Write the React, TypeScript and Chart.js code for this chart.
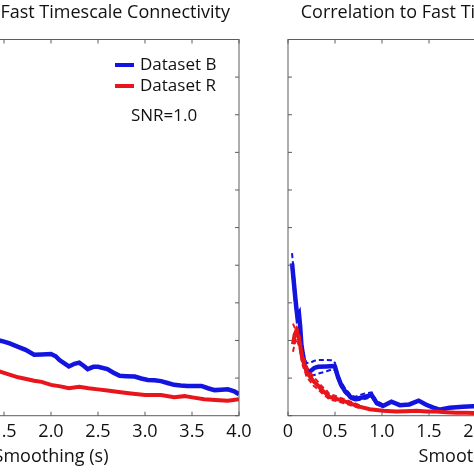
import React, { useEffect, useRef } from "react";
import { Chart, registerables } from "chart.js";

Chart.register(...registerables);

// shared axis ticks (both panels use the same scales)
const xTickValues = [0, 0.5, 1, 1.5, 2, 2.5, 3, 3.5, 4];
const yTickValues = [0, 0.1, 0.2, 0.3, 0.4, 0.5, 0.6, 0.7, 0.8, 0.9, 1];

// left panel: fast timescale connectivity
const leftBX = [1.45, 1.5, 1.56, 1.65, 1.73, 1.82, 1.9, 2.0, 2.05, 2.09, 2.19, 2.25, 2.3, 2.35, 2.39, 2.45, 2.5, 2.6, 2.66, 2.73, 2.8, 2.89, 2.96, 3.03, 3.1, 3.17, 3.24, 3.31, 3.38, 3.45, 3.52, 3.6, 3.67, 3.74, 3.81, 3.88, 3.95, 4.0];
const leftBY = [0.2, 0.197, 0.192, 0.183, 0.175, 0.162, 0.163, 0.164, 0.158, 0.148, 0.131, 0.138, 0.141, 0.132, 0.124, 0.13, 0.13, 0.124, 0.115, 0.106, 0.105, 0.104, 0.099, 0.095, 0.094, 0.092, 0.087, 0.082, 0.08, 0.079, 0.079, 0.079, 0.073, 0.068, 0.069, 0.07, 0.065, 0.057];
const leftRX = [1.45, 1.55, 1.65, 1.75, 1.82, 1.9, 2.0, 2.1, 2.19, 2.3, 2.4, 2.5, 2.6, 2.72, 2.85, 3.0, 3.17, 3.31, 3.42, 3.52, 3.63, 3.75, 3.88, 4.0];
const leftRY = [0.118, 0.11, 0.102, 0.097, 0.093, 0.09, 0.082, 0.078, 0.073, 0.077, 0.073, 0.07, 0.067, 0.063, 0.059, 0.055, 0.055, 0.049, 0.052, 0.048, 0.044, 0.042, 0.04, 0.044];

// right panel: correlation to fast timescale connectivity
const rightBX = [0.043, 0.06, 0.075, 0.089, 0.1, 0.117, 0.13, 0.142, 0.16, 0.178, 0.2, 0.23, 0.28, 0.32, 0.41, 0.48, 0.5, 0.53, 0.56, 0.6, 0.66, 0.71, 0.8, 0.89, 0.94, 1.01, 1.1, 1.19, 1.29, 1.39, 1.47, 1.54, 1.61, 1.72, 1.86, 1.97, 2.05];
const rightBY = [0.405, 0.36, 0.32, 0.286, 0.262, 0.27, 0.235, 0.19, 0.16, 0.135, 0.12, 0.117, 0.127, 0.13, 0.131, 0.132, 0.13, 0.104, 0.085, 0.068, 0.051, 0.044, 0.049, 0.055, 0.035, 0.026, 0.037, 0.028, 0.03, 0.04, 0.029, 0.022, 0.016, 0.021, 0.024, 0.025, 0.025];
const rightBUpper = [0.432, 0.385, 0.34, 0.3, 0.275, 0.28, 0.25, 0.205, 0.175, 0.15, 0.14, 0.14, 0.146, 0.148, 0.148, 0.147, 0.14, 0.112, 0.092, 0.075, 0.057, 0.05, 0.058, 0.062, 0.04, 0.03];
const rightBLower = [0.38, 0.34, 0.3, 0.27, 0.25, 0.255, 0.22, 0.178, 0.148, 0.125, 0.108, 0.105, 0.108, 0.112, 0.118, 0.124, 0.12, 0.097, 0.078, 0.062, 0.046, 0.04, 0.043, 0.05, 0.03, 0.023];
const rightRX = [0.053, 0.07, 0.089, 0.11, 0.125, 0.142, 0.16, 0.178, 0.196, 0.23, 0.27, 0.32, 0.36, 0.41, 0.44, 0.5, 0.55, 0.62, 0.66, 0.76, 0.87, 1.01, 1.15, 1.25, 1.37, 1.47, 1.58, 1.68, 1.79, 1.9, 1.97, 2.05];
const rightRY = [0.19, 0.215, 0.226, 0.21, 0.195, 0.165, 0.145, 0.135, 0.118, 0.105, 0.092, 0.08, 0.068, 0.058, 0.05, 0.046, 0.042, 0.037, 0.033, 0.024, 0.017, 0.013, 0.011, 0.012, 0.013, 0.011, 0.011, 0.009, 0.008, 0.008, 0.007, 0.007];
const rightRUpper = [0.245, 0.235, 0.24, 0.225, 0.21, 0.18, 0.16, 0.15, 0.132, 0.118, 0.104, 0.09, 0.078, 0.067, 0.058, 0.053, 0.048, 0.042, 0.038, 0.028];
const rightRLower = [0.17, 0.19, 0.205, 0.19, 0.178, 0.15, 0.13, 0.12, 0.104, 0.093, 0.08, 0.07, 0.06, 0.05, 0.043, 0.04, 0.036, 0.032, 0.028, 0.02];

const BLUE = "#1414e0";
const RED = "#e8151c";
const AXIS = "#5c5c5c";
const FONT = "'Open Sans', 'DejaVu Sans', sans-serif";

const zip = (xs: number[], ys: number[]) => ys.map((y, i) => ({ x: xs[i], y }));

const solid = (label: string, data: { x: number; y: number }[], color: string, width: number) => ({
  label,
  data,
  borderColor: color,
  backgroundColor: color,
  borderWidth: width,
  pointRadius: 0,
  tension: 0,
});

const dashed = (data: { x: number; y: number }[], color: string) => ({
  label: "",
  data,
  borderColor: color,
  borderWidth: 2,
  borderDash: [5, 3],
  pointRadius: 0,
  tension: 0,
});

type PanelText = {
  title: string;
  titleAlign: "right" | "center";
  legend: boolean;
};

const boxPlugin = (text: PanelText) => ({
  id: "matlabBox",
  afterDraw: (chart: Chart) => {
    const { ctx, chartArea: a } = chart;
    const xs = chart.scales.x;
    const ys = chart.scales.y;
    const tl = 4;
    ctx.save();
    ctx.strokeStyle = AXIS;
    ctx.lineWidth = 1;
    ctx.strokeRect(a.left, a.top, a.right - a.left, a.bottom - a.top);
    ctx.beginPath();
    xTickValues.forEach((v) => {
      const px = xs.getPixelForValue(v);
      ctx.moveTo(px, a.bottom);
      ctx.lineTo(px, a.bottom - tl);
      ctx.moveTo(px, a.top);
      ctx.lineTo(px, a.top + tl);
    });
    yTickValues.forEach((v) => {
      const py = ys.getPixelForValue(v);
      ctx.moveTo(a.left, py);
      ctx.lineTo(a.left + tl, py);
      ctx.moveTo(a.right, py);
      ctx.lineTo(a.right - tl, py);
    });
    ctx.stroke();

    ctx.fillStyle = "#111";
    ctx.font = `18px ${FONT}`;
    ctx.textBaseline = "middle";
    if (text.titleAlign === "right") {
      ctx.textAlign = "right";
      ctx.fillText(text.title, a.right - 9, 13);
    } else {
      ctx.textAlign = "center";
      ctx.fillText(text.title, (a.left + a.right) / 2, 13);
    }

    if (text.legend) {
      ctx.font = `17px ${FONT}`;
      const items = chart.data.datasets.filter((d) => d.label);
      items.forEach((d, i) => {
        const y = a.top + 25.5 + i * 21;
        ctx.strokeStyle = d.borderColor as string;
        ctx.lineWidth = 4;
        ctx.beginPath();
        ctx.moveTo(a.right - 124, y);
        ctx.lineTo(a.right - 105, y);
        ctx.stroke();
        ctx.textAlign = "left";
        ctx.fillText(d.label as string, a.right - 99, y);
      });
      ctx.textAlign = "center";
      ctx.fillText("SNR=1.0", a.right - 75, a.top + 76.5);
    }
    ctx.restore();
  },
});

function makeChart(canvas: HTMLCanvasElement, datasets: any[], text: PanelText) {
  return new Chart(canvas, {
    type: "line",
    data: { datasets },
    options: {
      responsive: false,
      animation: false,
      layout: { padding: { left: 23, right: 21, top: 39.5, bottom: 0 } },
      plugins: { legend: { display: false }, tooltip: { enabled: false } },
      scales: {
        x: {
          type: "linear",
          min: 0,
          max: 4,
          afterFit: (scale: any) => {
            scale.height = 58.3;
          },
          grid: { display: false, drawTicks: false },
          border: { display: false },
          ticks: {
            stepSize: 0.5,
            padding: 5,
            color: "#111",
            font: { family: FONT, size: 18 },
            callback: (v: any) => (Number(v) === 0 ? "0" : Number(v).toFixed(1)),
          },
          title: {
            display: true,
            text: "Smoothing (s)",
            color: "#111",
            font: { family: FONT, size: 18 },
            padding: { top: 0, bottom: 6 },
          },
        },
        y: {
          type: "linear",
          display: false,
          min: 0,
          max: 1,
        },
      },
    },
    plugins: [boxPlugin(text)],
  });
}

export default function App() {
  const leftRef = useRef<HTMLCanvasElement | null>(null);
  const rightRef = useRef<HTMLCanvasElement | null>(null);

  useEffect(() => {
    if (!leftRef.current || !rightRef.current) return;
    const left = makeChart(
      leftRef.current,
      [
        solid("Dataset B", zip(leftBX, leftBY), BLUE, 4.5),
        solid("Dataset R", zip(leftRX, leftRY), RED, 4),
      ],
      { title: "Fast Timescale Connectivity", titleAlign: "right", legend: true }
    );
    const right = makeChart(
      rightRef.current,
      [
        dashed(zip(rightRX, rightRUpper), RED),
        dashed(zip(rightRX, rightRLower), RED),
        solid("", zip(rightRX, rightRY), RED, 4),
        dashed(zip(rightBX, rightBUpper), BLUE),
        dashed(zip(rightBX, rightBLower), BLUE),
        solid("", zip(rightBX, rightBY), BLUE, 4.5),
      ],
      { title: "Correlation to Fast Timescale Connectivity", titleAlign: "center", legend: false }
    );
    return () => {
      left.destroy();
      right.destroy();
    };
  }, []);

  return (
    <div style={{ position: "fixed", left: 0, top: 0, width: 474, height: 474, overflow: "hidden", background: "#fff" }}>
      <canvas ref={leftRef} width={420} height={474} style={{ position: "absolute", left: -160, top: 0, width: 420, height: 474 }} />
      <canvas ref={rightRef} width={420} height={474} style={{ position: "absolute", left: 265, top: 0, width: 420, height: 474 }} />
    </div>
  );
}
